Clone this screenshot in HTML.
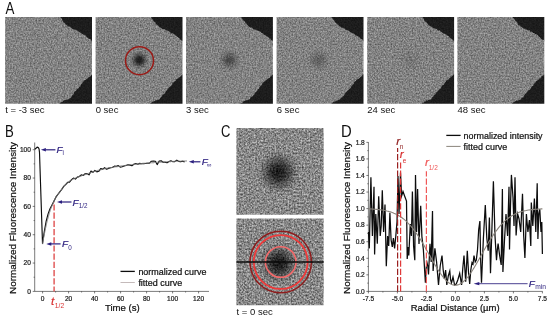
<!DOCTYPE html>
<html lang="en"><head><meta charset="utf-8"><title>FRAP analysis figure</title>
<style>html,body{margin:0;padding:0;background:#fff;}body{width:550px;height:317px;overflow:hidden;}svg{display:block;}text{font-family:"Liberation Sans", sans-serif;}</style></head><body>
<svg width="550" height="317" viewBox="0 0 550 317">
<defs>
<filter id="nA0" x="0" y="0" width="1" height="1" color-interpolation-filters="sRGB"><feTurbulence type="fractalNoise" baseFrequency="0.71 0.63" numOctaves="2" seed="3" result="t"/><feColorMatrix in="t" type="matrix" values="0.48 0 0 0 0.26  0.48 0 0 0 0.26  0.48 0 0 0 0.26  0 0 0 0 1" result="n"/><feComposite in="SourceGraphic" in2="n" operator="arithmetic" k1="2" k2="0" k3="0" k4="0"/></filter>
<filter id="nA1" x="0" y="0" width="1" height="1" color-interpolation-filters="sRGB"><feTurbulence type="fractalNoise" baseFrequency="0.71 0.63" numOctaves="2" seed="8" result="t"/><feColorMatrix in="t" type="matrix" values="0.48 0 0 0 0.26  0.48 0 0 0 0.26  0.48 0 0 0 0.26  0 0 0 0 1" result="n"/><feComposite in="SourceGraphic" in2="n" operator="arithmetic" k1="2" k2="0" k3="0" k4="0"/></filter>
<filter id="nA2" x="0" y="0" width="1" height="1" color-interpolation-filters="sRGB"><feTurbulence type="fractalNoise" baseFrequency="0.71 0.63" numOctaves="2" seed="13" result="t"/><feColorMatrix in="t" type="matrix" values="0.48 0 0 0 0.26  0.48 0 0 0 0.26  0.48 0 0 0 0.26  0 0 0 0 1" result="n"/><feComposite in="SourceGraphic" in2="n" operator="arithmetic" k1="2" k2="0" k3="0" k4="0"/></filter>
<filter id="nA3" x="0" y="0" width="1" height="1" color-interpolation-filters="sRGB"><feTurbulence type="fractalNoise" baseFrequency="0.71 0.63" numOctaves="2" seed="18" result="t"/><feColorMatrix in="t" type="matrix" values="0.48 0 0 0 0.26  0.48 0 0 0 0.26  0.48 0 0 0 0.26  0 0 0 0 1" result="n"/><feComposite in="SourceGraphic" in2="n" operator="arithmetic" k1="2" k2="0" k3="0" k4="0"/></filter>
<filter id="nA4" x="0" y="0" width="1" height="1" color-interpolation-filters="sRGB"><feTurbulence type="fractalNoise" baseFrequency="0.71 0.63" numOctaves="2" seed="23" result="t"/><feColorMatrix in="t" type="matrix" values="0.48 0 0 0 0.26  0.48 0 0 0 0.26  0.48 0 0 0 0.26  0 0 0 0 1" result="n"/><feComposite in="SourceGraphic" in2="n" operator="arithmetic" k1="2" k2="0" k3="0" k4="0"/></filter>
<filter id="nA5" x="0" y="0" width="1" height="1" color-interpolation-filters="sRGB"><feTurbulence type="fractalNoise" baseFrequency="0.71 0.63" numOctaves="2" seed="28" result="t"/><feColorMatrix in="t" type="matrix" values="0.48 0 0 0 0.26  0.48 0 0 0 0.26  0.48 0 0 0 0.26  0 0 0 0 1" result="n"/><feComposite in="SourceGraphic" in2="n" operator="arithmetic" k1="2" k2="0" k3="0" k4="0"/></filter>
<filter id="nC0" x="0" y="0" width="1" height="1" color-interpolation-filters="sRGB"><feTurbulence type="fractalNoise" baseFrequency="0.62 0.56" numOctaves="2" seed="11" result="t"/><feColorMatrix in="t" type="matrix" values="0.55 0 0 0 0.225  0.55 0 0 0 0.225  0.55 0 0 0 0.225  0 0 0 0 1" result="n"/><feComposite in="SourceGraphic" in2="n" operator="arithmetic" k1="2" k2="0" k3="0.34" k4="-0.17"/></filter>
<filter id="nC1" x="0" y="0" width="1" height="1" color-interpolation-filters="sRGB"><feTurbulence type="fractalNoise" baseFrequency="0.62 0.56" numOctaves="2" seed="23" result="t"/><feColorMatrix in="t" type="matrix" values="0.55 0 0 0 0.225  0.55 0 0 0 0.225  0.55 0 0 0 0.225  0 0 0 0 1" result="n"/><feComposite in="SourceGraphic" in2="n" operator="arithmetic" k1="2" k2="0" k3="0.34" k4="-0.17"/></filter>
<radialGradient id="s1"><stop offset="0" stop-color="#000" stop-opacity="0.8"/><stop offset="0.3" stop-color="#000" stop-opacity="0.68"/><stop offset="0.65" stop-color="#000" stop-opacity="0.24"/><stop offset="1" stop-color="#000" stop-opacity="0"/></radialGradient>
<radialGradient id="s2"><stop offset="0" stop-color="#000" stop-opacity="0.5"/><stop offset="0.3" stop-color="#000" stop-opacity="0.35"/><stop offset="0.65" stop-color="#000" stop-opacity="0.14"/><stop offset="1" stop-color="#000" stop-opacity="0"/></radialGradient>
<radialGradient id="s3"><stop offset="0" stop-color="#000" stop-opacity="0.28"/><stop offset="0.3" stop-color="#000" stop-opacity="0.21"/><stop offset="0.65" stop-color="#000" stop-opacity="0.084"/><stop offset="1" stop-color="#000" stop-opacity="0"/></radialGradient>
<radialGradient id="s4"><stop offset="0" stop-color="#000" stop-opacity="0.1"/><stop offset="0.3" stop-color="#000" stop-opacity="0.085"/><stop offset="0.65" stop-color="#000" stop-opacity="0.03"/><stop offset="1" stop-color="#000" stop-opacity="0"/></radialGradient>
<radialGradient id="sC"><stop offset="0" stop-color="#000" stop-opacity="0.82"/><stop offset="0.28" stop-color="#000" stop-opacity="0.7"/><stop offset="0.52" stop-color="#000" stop-opacity="0.42"/><stop offset="0.78" stop-color="#000" stop-opacity="0.14"/><stop offset="1" stop-color="#000" stop-opacity="0"/></radialGradient>
</defs>
<rect width="550" height="317" fill="#fff"/>
<text x="5.4" y="13.6" font-size="15.7" fill="#111" stroke="none" textLength="8.9" lengthAdjust="spacingAndGlyphs">A</text>
<clipPath id="cA"><rect x="0" y="0" width="86.9" height="86.7"/></clipPath>
<g transform="translate(5.1,17.1)">
<g clip-path="url(#cA)"><g filter="url(#nA0)">
<rect x="-3" y="-3" width="92.9" height="92.7" fill="#828282"/>
<polygon points="53.2,-3.0 55.2,0.0 55.7,0.7 56.7,1.6 57.3,2.9 57.8,4.1 58.6,5.1 59.5,5.8 60.7,7.4 61.3,7.7 62.6,9.2 63.6,9.4 65.0,9.7 65.9,10.6 66.5,11.0 67.9,12.2 69.0,12.5 70.3,12.6 71.1,12.7 71.5,13.1 73.1,14.0 73.8,14.9 75.0,15.3 76.3,16.2 76.8,16.6 78.1,17.4 79.3,17.6 80.6,18.2 81.1,19.4 82.0,20.1 82.9,21.1 84.6,21.9 85.6,22.4 86.3,23.4 87.0,24.1 89.9,26.1 89.9,-3.0" fill="#1d1d1d"/>
<polygon points="89.9,55.3 87.0,57.3 86.2,58.0 85.6,59.2 84.4,59.7 83.1,60.5 82.8,61.4 82.1,61.5 80.8,62.6 79.6,63.1 78.9,63.5 78.1,64.9 77.4,65.3 76.9,66.7 75.9,67.2 75.6,68.5 75.2,69.3 74.0,69.8 73.4,71.1 73.2,71.3 71.7,72.2 71.0,73.3 70.5,74.0 69.2,75.1 68.7,76.3 68.4,77.4 67.2,78.2 66.6,78.7 66.0,80.3 65.3,81.1 64.2,81.5 63.2,82.5 62.0,82.3 60.9,82.8 59.9,83.0 58.7,83.5 57.8,84.1 56.9,84.9 56.5,84.9 55.3,85.7 54.7,86.4 52.7,89.7 89.9,89.7" fill="#1d1d1d"/>
</g></g>
</g>
<text x="5.2" y="112.8" font-size="9.5" fill="#111" stroke="none">t = -3 sec</text>
<g transform="translate(95.6,17.1)">
<g clip-path="url(#cA)"><g filter="url(#nA1)">
<rect x="-3" y="-3" width="92.9" height="92.7" fill="#828282"/>
<circle cx="43.7" cy="42.9" r="10" fill="url(#s1)"/>
<polygon points="53.2,-3.0 55.2,0.0 55.8,0.7 56.9,2.4 57.3,3.0 57.8,3.7 58.9,4.9 60.2,5.9 60.3,7.5 61.7,7.6 62.5,8.4 63.6,9.9 64.9,10.3 65.4,10.7 66.5,11.6 68.1,12.1 69.1,12.2 70.4,13.2 71.4,13.3 72.2,13.6 72.7,14.1 73.8,14.4 74.6,15.3 75.8,16.2 77.5,16.5 78.5,17.5 79.5,17.7 79.9,18.3 80.9,18.9 82.4,20.4 83.6,20.9 84.5,22.1 84.9,22.7 86.5,23.6 87.0,24.1 89.9,26.1 89.9,-3.0" fill="#1d1d1d"/>
<polygon points="89.9,55.3 87.0,57.3 86.3,58.0 85.0,59.1 84.2,59.9 84.0,60.2 82.6,61.4 82.0,61.4 80.6,62.1 80.4,63.4 78.9,64.1 78.9,64.8 77.6,65.6 76.7,66.0 76.7,67.4 75.6,68.5 74.8,69.3 74.5,69.6 73.3,70.5 72.6,71.7 71.8,72.4 70.9,73.7 70.3,74.2 69.7,75.6 68.7,76.6 68.0,77.2 67.2,77.7 66.3,78.8 65.2,80.3 64.6,80.8 64.5,81.7 63.4,82.4 62.4,83.0 60.8,83.1 59.8,83.2 59.3,83.8 58.3,84.4 57.7,84.5 56.5,85.2 55.6,86.0 54.7,86.4 52.7,89.7 89.9,89.7" fill="#1d1d1d"/>
</g></g>
<circle cx="43.9" cy="43.6" r="14.0" fill="none" stroke="#9a1a16" stroke-width="1.45"/>
</g>
<text x="95.7" y="112.8" font-size="9.5" fill="#111" stroke="none">0 sec</text>
<g transform="translate(186,17.1)">
<g clip-path="url(#cA)"><g filter="url(#nA2)">
<rect x="-3" y="-3" width="92.9" height="92.7" fill="#828282"/>
<circle cx="43.4" cy="42.9" r="11.5" fill="url(#s2)"/>
<polygon points="53.2,-3.0 55.2,0.0 55.9,1.0 56.6,2.4 57.5,3.3 58.6,3.9 59.1,5.5 60.2,5.9 60.4,7.0 61.2,7.7 62.1,9.0 63.8,9.8 64.3,10.3 65.7,10.5 67.2,11.8 67.8,12.3 69.2,12.4 70.6,13.0 70.7,13.0 71.9,13.3 72.7,13.9 74.2,14.4 75.0,15.4 75.6,15.9 77.2,16.6 77.7,17.5 79.4,18.2 79.8,18.3 80.8,19.5 82.1,19.7 83.3,21.3 84.7,21.6 84.9,22.9 86.2,23.5 87.0,24.1 89.9,26.1 89.9,-3.0" fill="#1d1d1d"/>
<polygon points="89.9,55.3 87.0,57.3 85.7,57.7 85.4,58.8 84.0,60.0 83.7,60.6 82.3,61.3 81.4,62.0 80.9,62.3 80.1,63.5 79.0,63.5 78.5,64.4 77.4,65.2 76.6,66.1 76.1,67.1 75.8,67.9 74.9,68.7 74.1,69.4 73.3,70.3 73.0,71.6 71.7,72.4 71.6,73.0 70.7,74.1 69.6,75.5 68.7,76.2 68.2,77.6 67.1,78.4 66.6,79.2 65.5,79.9 64.5,80.5 63.9,81.8 63.4,82.1 62.0,83.0 61.5,83.2 59.8,83.2 58.9,83.8 57.9,84.2 57.1,85.0 56.9,85.2 55.3,86.2 54.7,86.4 52.7,89.7 89.9,89.7" fill="#1d1d1d"/>
</g></g>
</g>
<text x="186.1" y="112.8" font-size="9.5" fill="#111" stroke="none">3 sec</text>
<g transform="translate(276.6,17.1)">
<g clip-path="url(#cA)"><g filter="url(#nA3)">
<rect x="-3" y="-3" width="92.9" height="92.7" fill="#828282"/>
<circle cx="42.2" cy="42.9" r="12.5" fill="url(#s3)"/>
<polygon points="53.2,-3.0 55.2,0.0 55.7,0.9 56.2,1.9 57.3,3.0 57.9,4.1 58.6,4.9 59.5,6.1 60.4,6.6 61.5,7.7 62.6,8.8 63.8,9.6 64.8,10.5 65.5,10.6 67.3,11.0 68.3,12.0 68.9,12.7 70.5,12.8 71.2,13.3 71.6,13.4 72.9,14.4 74.2,15.1 75.1,15.9 76.2,16.2 76.8,16.1 77.8,17.0 78.8,18.1 80.2,18.6 81.3,19.4 82.3,19.6 83.6,21.2 84.4,21.8 85.4,22.2 86.3,23.1 87.0,24.1 89.9,26.1 89.9,-3.0" fill="#1d1d1d"/>
<polygon points="89.9,55.3 87.0,57.3 85.7,57.9 85.5,58.6 84.6,60.0 83.5,60.2 82.6,61.2 82.0,61.8 81.1,62.0 79.7,62.9 79.4,63.6 78.5,64.2 77.3,65.3 77.2,66.6 76.5,67.1 75.6,68.1 74.9,68.7 74.6,69.6 73.9,71.1 72.4,71.6 72.3,72.9 71.2,73.1 70.1,74.6 69.3,75.3 68.5,76.2 68.4,76.9 67.5,78.1 66.7,79.2 65.4,80.4 64.9,80.4 63.8,81.6 63.6,82.2 62.1,82.6 61.0,83.4 59.6,83.6 59.4,83.5 58.6,84.4 57.7,84.4 56.3,85.1 56.0,85.9 54.7,86.4 52.7,89.7 89.9,89.7" fill="#1d1d1d"/>
</g></g>
</g>
<text x="276.7" y="112.8" font-size="9.5" fill="#111" stroke="none">6 sec</text>
<g transform="translate(367.2,17.1)">
<g clip-path="url(#cA)"><g filter="url(#nA4)">
<rect x="-3" y="-3" width="92.9" height="92.7" fill="#828282"/>
<circle cx="43" cy="42.9" r="14" fill="url(#s4)"/>
<polygon points="53.2,-3.0 55.2,0.0 55.8,0.9 56.4,1.6 56.9,3.3 58.0,4.5 58.8,4.9 59.9,5.9 60.7,7.5 62.0,8.2 62.6,9.2 63.9,9.5 64.8,9.7 65.8,10.8 67.1,11.5 67.9,11.5 69.7,12.1 70.1,12.6 70.9,13.3 72.3,13.2 73.1,13.9 74.0,14.7 74.7,15.2 75.8,16.4 77.1,16.3 78.5,17.5 79.1,17.5 79.9,18.1 81.1,18.8 82.0,19.8 83.4,21.3 84.6,21.7 85.2,22.6 86.0,23.2 87.0,24.1 89.9,26.1 89.9,-3.0" fill="#1d1d1d"/>
<polygon points="89.9,55.3 87.0,57.3 85.7,57.9 85.7,58.5 84.4,59.7 83.9,60.0 82.5,60.8 81.7,61.7 81.3,62.7 80.4,62.7 78.8,64.0 78.8,64.6 77.8,65.1 76.9,66.8 76.6,67.6 76.0,67.9 74.5,68.7 74.2,70.0 73.9,70.9 72.9,71.8 72.0,72.5 70.8,73.6 70.2,74.6 69.7,75.0 68.5,76.0 68.1,77.4 66.9,77.7 66.4,79.1 65.5,79.8 65.0,80.4 64.1,81.6 64.0,82.5 62.7,82.7 61.0,82.8 60.4,83.6 58.9,83.4 58.2,84.4 57.2,84.4 56.6,85.6 55.3,85.4 54.7,86.4 52.7,89.7 89.9,89.7" fill="#1d1d1d"/>
</g></g>
</g>
<text x="367.3" y="112.8" font-size="9.5" fill="#111" stroke="none">24 sec</text>
<g transform="translate(457.4,17.1)">
<g clip-path="url(#cA)"><g filter="url(#nA5)">
<rect x="-3" y="-3" width="92.9" height="92.7" fill="#828282"/>
<polygon points="53.2,-3.0 55.2,0.0 55.8,0.9 56.8,1.7 57.6,3.2 58.2,3.8 59.5,5.0 60.2,6.0 60.5,7.3 61.4,8.3 62.5,8.5 63.3,9.4 64.7,10.5 65.3,10.7 66.6,11.8 67.7,11.5 68.9,12.3 70.5,13.1 71.2,13.5 72.3,13.2 72.7,14.5 74.2,14.4 75.1,15.4 75.9,15.9 76.8,16.1 77.9,17.0 79.5,17.5 80.6,18.2 81.1,19.5 82.6,20.0 82.9,20.9 84.3,22.2 85.0,22.4 86.5,22.9 87.0,24.1 89.9,26.1 89.9,-3.0" fill="#1d1d1d"/>
<polygon points="89.9,55.3 87.0,57.3 86.0,58.3 85.5,58.4 84.0,59.2 83.9,60.1 82.9,61.4 81.7,61.5 81.3,62.5 79.9,63.3 79.0,63.6 78.0,64.9 78.1,65.7 77.4,66.0 76.1,67.2 76.0,68.5 74.8,68.8 74.1,69.9 73.9,70.4 73.1,71.8 72.3,72.7 71.3,73.2 70.2,74.1 69.9,74.8 68.5,76.4 67.8,76.8 66.8,78.2 66.2,79.5 65.9,80.4 64.7,80.4 63.9,81.6 63.8,82.4 62.2,82.7 61.3,83.2 60.2,83.7 59.2,83.5 58.5,84.0 57.4,84.5 56.6,84.9 55.3,85.6 54.7,86.4 52.7,89.7 89.9,89.7" fill="#1d1d1d"/>
</g></g>
</g>
<text x="457.5" y="112.8" font-size="9.5" fill="#111" stroke="none">48 sec</text>
<text x="221.0" y="136.9" font-size="16.3" fill="#111" stroke="none" textLength="9.4" lengthAdjust="spacingAndGlyphs">C</text>
<clipPath id="cC"><rect x="0" y="0" width="87.25" height="86.9"/></clipPath>
<g transform="translate(236.4,127.9)" clip-path="url(#cC)"><g filter="url(#nC0)"><rect x="-3" y="-3" width="93.25" height="93" fill="#888888"/><circle cx="42.1" cy="44.4" r="22" fill="url(#sC)"/></g></g>
<g transform="translate(236.4,218.45)" clip-path="url(#cC)"><g filter="url(#nC1)"><rect x="-3" y="-3" width="93.25" height="93" fill="#888888"/><circle cx="42.3" cy="44.8" r="22" fill="url(#sC)"/></g></g>
<circle cx="280.7" cy="262" r="30.7" fill="none" stroke="#8e1c1c" stroke-width="1.5"/>
<circle cx="280.7" cy="262" r="26.9" fill="none" stroke="#ee3a3a" stroke-width="1.8"/>
<circle cx="280.7" cy="262" r="15.3" fill="none" stroke="#f46a6a" stroke-width="1.6"/>
<line x1="236.4" y1="262" x2="323.65" y2="262" stroke="#0a0a0a" stroke-width="1.6"/>
<text x="236.6" y="314.5" font-size="9.5" fill="#111" stroke="none">t = 0 sec</text>
<text x="5.0" y="136.9" font-size="16.1" fill="#111" stroke="none" textLength="8.8" lengthAdjust="spacingAndGlyphs">B</text>
<g stroke="#222" stroke-width="0.6" fill="none">
<path d="M34.7 142.5V291.4 H209"/>
<path d="M34.7 291.4 h-2"/>
<path d="M34.7 263.06 h-2"/>
<path d="M34.7 234.72 h-2"/>
<path d="M34.7 206.38 h-2"/>
<path d="M34.7 178.04 h-2"/>
<path d="M34.7 149.7 h-2"/>
<path d="M34.7 277.23 h-1.1"/>
<path d="M34.7 248.89 h-1.1"/>
<path d="M34.7 220.55 h-1.1"/>
<path d="M34.7 192.21 h-1.1"/>
<path d="M34.7 163.87 h-1.1"/>
<path d="M42.6 291.4 v2"/>
<path d="M68.6 291.4 v2"/>
<path d="M94.6 291.4 v2"/>
<path d="M120.6 291.4 v2"/>
<path d="M146.6 291.4 v2"/>
<path d="M172.6 291.4 v2"/>
<path d="M198.6 291.4 v2"/>
<path d="M55.6 291.4 v1.1"/>
<path d="M81.6 291.4 v1.1"/>
<path d="M107.6 291.4 v1.1"/>
<path d="M133.6 291.4 v1.1"/>
<path d="M159.6 291.4 v1.1"/>
<path d="M185.6 291.4 v1.1"/>
</g>
<g font-size="6.6" fill="#222" text-anchor="end" stroke="#222" stroke-width="0.22">
<text x="30.9" y="293.7">0</text>
<text x="30.9" y="265.36">20</text>
<text x="30.9" y="237.02">40</text>
<text x="30.9" y="208.68">60</text>
<text x="30.9" y="180.34">80</text>
<text x="30.9" y="152">100</text>
</g>
<g font-size="6.6" fill="#222" text-anchor="middle" stroke="#222" stroke-width="0.22">
<text x="42.6" y="300.5">0</text>
<text x="68.6" y="300.5">20</text>
<text x="94.6" y="300.5">40</text>
<text x="120.6" y="300.5">60</text>
<text x="146.6" y="300.5">80</text>
<text x="172.6" y="300.5">100</text>
<text x="198.6" y="300.5">120</text>
</g>
<text transform="translate(16.0,218) rotate(-90)" font-size="9.6" textLength="152" lengthAdjust="spacingAndGlyphs" text-anchor="middle" fill="#111" stroke="#111" stroke-width="0.22">Normalized Fluorescence Intensity</text>
<text x="122.3" y="310.8" font-size="9.6" text-anchor="middle" fill="#111" stroke="#111" stroke-width="0.22">Time (s)</text>
<path d="M42.6 244.2 L43.2 240.1 L43.9 236.2 L44.6 232.7 L45.2 229.5 L45.9 226.5 L46.5 223.7 L47.1 221.0 L47.8 218.5 L48.5 216.0 L49.1 213.7 L49.8 211.6 L50.4 209.6 L51.1 207.9 L51.7 206.3 L52.4 204.8 L53.0 203.4 L53.7 202.0 L54.3 200.5 L55.0 199.0 L55.6 197.7 L56.2 196.6 L56.9 195.7 L57.6 194.9 L58.2 194.0 L58.9 193.1 L59.5 192.2 L60.2 191.3 L60.8 190.4 L61.5 189.5 L62.1 188.6 L62.8 187.8 L63.4 187.0 L64.0 186.2 L64.7 185.6 L65.3 184.9 L66.0 184.3 L66.7 183.7 L67.3 183.1 L68.0 182.5 L68.6 182.0 L69.2 181.5 L69.9 181.0 L70.5 180.6 L71.2 180.2 L71.8 179.8 L72.5 179.5 L73.2 179.1 L73.8 178.8 L74.5 178.5 L75.1 178.2 L75.8 178.0 L76.4 177.7 L77.1 177.4 L77.7 177.2 L78.3 176.9 L79.0 176.7 L79.7 176.4 L80.3 176.2 L81.0 176.0 L81.6 175.7 L82.2 175.5 L82.9 175.2 L83.6 175.0 L84.2 174.8 L84.8 174.6 L85.5 174.4 L86.2 174.2 L86.8 173.9 L87.5 173.7 L88.1 173.5 L88.8 173.3 L89.4 173.1 L90.1 172.9 L90.7 172.6 L91.3 172.4 L92.0 172.2 L92.7 172.0 L93.3 171.8 L94.0 171.5 L94.6 171.3 L95.2 171.1 L95.9 171.0 L96.6 170.8 L97.2 170.6 L97.8 170.4 L98.5 170.2 L99.2 170.1 L99.8 169.9 L100.5 169.7 L101.1 169.6 L101.8 169.4 L102.4 169.2 L103.1 169.1 L103.7 168.9 L104.3 168.8 L105.0 168.7 L105.7 168.5 L106.3 168.4 L107.0 168.3 L107.6 168.2 L108.2 168.0 L108.9 167.9 L109.6 167.8 L110.2 167.7 L110.8 167.6 L111.5 167.5 L112.2 167.4 L112.8 167.3 L113.5 167.2 L114.1 167.0 L114.8 166.9 L115.4 166.8 L116.1 166.8 L116.7 166.7 L117.3 166.6 L118.0 166.5 L118.7 166.4 L119.3 166.3 L120.0 166.2 L120.6 166.1 L121.2 166.0 L121.9 165.9 L122.6 165.8 L123.2 165.7 L123.8 165.7 L124.5 165.6 L125.2 165.5 L125.8 165.4 L126.5 165.3 L127.1 165.2 L127.8 165.1 L128.4 165.1 L129.1 165.0 L129.7 164.9 L130.3 164.8 L131.0 164.7 L131.7 164.6 L132.3 164.6 L133.0 164.5 L133.6 164.4 L134.2 164.3 L134.9 164.3 L135.6 164.2 L136.2 164.1 L136.8 164.0 L137.5 164.0 L138.2 163.9 L138.8 163.8 L139.5 163.8 L140.1 163.7 L140.8 163.6 L141.4 163.6 L142.1 163.5 L142.7 163.4 L143.3 163.4 L144.0 163.3 L144.7 163.3 L145.3 163.2 L146.0 163.2 L146.6 163.1 L147.2 163.0 L147.9 163.0 L148.6 162.9 L149.2 162.9 L149.8 162.8 L150.5 162.8 L151.2 162.7 L151.8 162.7 L152.5 162.6 L153.1 162.6 L153.8 162.6 L154.4 162.5 L155.1 162.5 L155.7 162.4 L156.3 162.4 L157.0 162.3 L157.7 162.3 L158.3 162.2 L159.0 162.2 L159.6 162.2 L160.2 162.1 L160.9 162.1 L161.6 162.1 L162.2 162.0 L162.8 162.0 L163.5 161.9 L164.2 161.9 L164.8 161.9 L165.5 161.8 L166.1 161.8 L166.8 161.8 L167.4 161.7 L168.1 161.7 L168.7 161.7 L169.3 161.6 L170.0 161.6 L170.7 161.6 L171.3 161.5 L171.9 161.5 L172.6 161.5 L173.2 161.5 L173.9 161.4 L174.6 161.4 L175.2 161.4 L175.8 161.3 L176.5 161.3 L177.2 161.3 L177.8 161.3 L178.4 161.2 L179.1 161.2 L179.8 161.2 L180.4 161.2 L181.1 161.1 L181.7 161.1 L182.3 161.1 L183.0 161.1 L183.7 161.0 L184.3 161.0 L184.9 161.0 L185.6 161.0 L186.2 161.0 L186.9 160.9" fill="none" stroke="#9a9a9a" stroke-width="1.1" stroke-linejoin="round"/>
<path d="M34.8 149.3 L36.0 148.3 L37.1 147.1 L38.3 147.6 L39.1 149.1 L39.5 152.5 L42.5 243.5 L44.2 232.2 L46.1 221.5 L48.1 213.9 L50.0 208.8 L52.0 205.0 L53.9 201.2 L55.9 197.2 L57.8 194.5 L59.8 191.9 L61.7 189.5 L63.7 186.4 L65.6 184.6 L67.6 182.3 L69.5 182.1 L71.5 179.6 L73.4 178.1 L75.4 179.1 L77.3 177.1 L79.3 176.5 L81.2 174.9 L83.2 175.5 L85.1 173.7 L87.1 173.6 L89.0 174.9 L91.0 171.1 L92.9 172.3 L94.9 170.4 L96.8 171.9 L98.8 171.3 L100.7 168.6 L102.7 169.1 L104.6 167.7 L106.6 169.2 L108.5 168.4 L110.5 167.7 L112.4 167.5 L114.4 166.1 L116.3 166.3 L118.3 165.6 L120.2 167.1 L122.2 166.8 L124.1 165.9 L126.1 165.5 L128.0 164.7 L130.0 165.1 L131.9 165.7 L133.9 164.3 L135.8 163.5 L137.8 164.2 L139.7 163.4 L141.7 163.7 L143.6 163.8 L145.6 163.5 L147.5 163.2 L149.5 163.1 L151.4 161.2 L153.4 161.0 L155.3 161.3 L157.3 164.6 L159.2 161.0 L161.2 160.8 L163.1 162.3 L165.1 162.2 L167.0 162.8 L169.0 161.5 L170.9 160.8 L172.9 161.7 L174.8 161.6 L176.8 160.1 L178.7 161.4 L180.7 161.8 L182.6 161.2 L184.6 161.9" fill="none" stroke="#0c0c0c" stroke-width="1.15" stroke-linejoin="round"/>
<path d="M42.6 244.2 L43.2 240.1 L43.9 236.2 L44.6 232.7 L45.2 229.5 L45.9 226.5 L46.5 223.7 L47.1 221.0 L47.8 218.5 L48.5 216.0 L49.1 213.7 L49.8 211.6 L50.4 209.6 L51.1 207.9 L51.7 206.3 L52.4 204.8 L53.0 203.4 L53.7 202.0 L54.3 200.5 L55.0 199.0 L55.6 197.7 L56.2 196.6 L56.9 195.7 L57.6 194.9 L58.2 194.0 L58.9 193.1 L59.5 192.2 L60.2 191.3 L60.8 190.4 L61.5 189.5 L62.1 188.6 L62.8 187.8 L63.4 187.0 L64.0 186.2 L64.7 185.6 L65.3 184.9 L66.0 184.3 L66.7 183.7 L67.3 183.1 L68.0 182.5 L68.6 182.0 L69.2 181.5 L69.9 181.0 L70.5 180.6 L71.2 180.2 L71.8 179.8 L72.5 179.5 L73.2 179.1 L73.8 178.8 L74.5 178.5 L75.1 178.2 L75.8 178.0 L76.4 177.7 L77.1 177.4 L77.7 177.2 L78.3 176.9 L79.0 176.7 L79.7 176.4 L80.3 176.2 L81.0 176.0 L81.6 175.7 L82.2 175.5 L82.9 175.2 L83.6 175.0 L84.2 174.8 L84.8 174.6 L85.5 174.4 L86.2 174.2 L86.8 173.9 L87.5 173.7 L88.1 173.5 L88.8 173.3 L89.4 173.1 L90.1 172.9 L90.7 172.6 L91.3 172.4 L92.0 172.2 L92.7 172.0 L93.3 171.8 L94.0 171.5 L94.6 171.3 L95.2 171.1 L95.9 171.0 L96.6 170.8 L97.2 170.6 L97.8 170.4 L98.5 170.2 L99.2 170.1 L99.8 169.9 L100.5 169.7 L101.1 169.6 L101.8 169.4 L102.4 169.2 L103.1 169.1 L103.7 168.9 L104.3 168.8 L105.0 168.7 L105.7 168.5 L106.3 168.4 L107.0 168.3 L107.6 168.2 L108.2 168.0 L108.9 167.9 L109.6 167.8 L110.2 167.7 L110.8 167.6 L111.5 167.5 L112.2 167.4 L112.8 167.3 L113.5 167.2 L114.1 167.0 L114.8 166.9 L115.4 166.8 L116.1 166.8 L116.7 166.7 L117.3 166.6 L118.0 166.5 L118.7 166.4 L119.3 166.3 L120.0 166.2 L120.6 166.1 L121.2 166.0 L121.9 165.9 L122.6 165.8 L123.2 165.7 L123.8 165.7 L124.5 165.6 L125.2 165.5 L125.8 165.4 L126.5 165.3 L127.1 165.2 L127.8 165.1 L128.4 165.1 L129.1 165.0 L129.7 164.9 L130.3 164.8 L131.0 164.7 L131.7 164.6 L132.3 164.6 L133.0 164.5 L133.6 164.4 L134.2 164.3 L134.9 164.3 L135.6 164.2 L136.2 164.1 L136.8 164.0 L137.5 164.0 L138.2 163.9 L138.8 163.8 L139.5 163.8 L140.1 163.7 L140.8 163.6 L141.4 163.6 L142.1 163.5 L142.7 163.4 L143.3 163.4 L144.0 163.3 L144.7 163.3 L145.3 163.2 L146.0 163.2 L146.6 163.1 L147.2 163.0 L147.9 163.0 L148.6 162.9 L149.2 162.9 L149.8 162.8 L150.5 162.8 L151.2 162.7 L151.8 162.7 L152.5 162.6 L153.1 162.6 L153.8 162.6 L154.4 162.5 L155.1 162.5 L155.7 162.4 L156.3 162.4 L157.0 162.3 L157.7 162.3 L158.3 162.2 L159.0 162.2 L159.6 162.2 L160.2 162.1 L160.9 162.1 L161.6 162.1 L162.2 162.0 L162.8 162.0 L163.5 161.9 L164.2 161.9 L164.8 161.9 L165.5 161.8 L166.1 161.8 L166.8 161.8 L167.4 161.7 L168.1 161.7 L168.7 161.7 L169.3 161.6 L170.0 161.6 L170.7 161.6 L171.3 161.5 L171.9 161.5 L172.6 161.5 L173.2 161.5 L173.9 161.4 L174.6 161.4 L175.2 161.4 L175.8 161.3 L176.5 161.3 L177.2 161.3 L177.8 161.3 L178.4 161.2 L179.1 161.2 L179.8 161.2 L180.4 161.2 L181.1 161.1 L181.7 161.1 L182.3 161.1 L183.0 161.1 L183.7 161.0 L184.3 161.0 L184.9 161.0 L185.6 161.0 L186.2 161.0 L186.9 160.9" fill="none" stroke="#b4b4b4" stroke-width="0.55" stroke-linejoin="round"/>
<path d="M54.1 291.4V202.2" stroke="#e05050" stroke-width="1.4" stroke-dasharray="6.2 2" stroke-dashoffset="1.2" fill="none"/>
<path d="M45.4 149.8 H55.4" stroke="#2b1f7e" stroke-width="1.2" fill="none"/><path d="M40.9 149.8 l5 -1.75 v3.5 z" fill="#2b1f7e"/>
<text x="56.4" y="153.1" font-size="9.9" fill="#2b1f7e" stroke="#2b1f7e" stroke-width="0.22"><tspan font-style="italic">F</tspan><tspan dx="0.1" dy="2" font-size="6.3" stroke="none">i</tspan></text>
<path d="M61.5 202 H71.5" stroke="#2b1f7e" stroke-width="1.2" fill="none"/><path d="M57 202 l5 -1.75 v3.5 z" fill="#2b1f7e"/>
<text x="72.6" y="205.5" font-size="9.9" fill="#2b1f7e" stroke="#2b1f7e" stroke-width="0.22"><tspan font-style="italic">F</tspan><tspan dx="0.1" dy="2.6" font-size="6.3" stroke="none">1/2</tspan></text>
<path d="M50.8 243.9 H60.6" stroke="#2b1f7e" stroke-width="1.2" fill="none"/><path d="M46.3 243.9 l5 -1.75 v3.5 z" fill="#2b1f7e"/>
<text x="62.1" y="247.4" font-size="9.9" fill="#2b1f7e" stroke="#2b1f7e" stroke-width="0.22"><tspan font-style="italic">F</tspan><tspan dx="0.1" dy="2.6" font-size="6.3" stroke="none">0</tspan></text>
<path d="M193.3 161.8 H200.4" stroke="#2b1f7e" stroke-width="1.2" fill="none"/><path d="M188.8 161.8 l5 -1.75 v3.5 z" fill="#2b1f7e"/>
<text x="201.8" y="165.3" font-size="9.9" fill="#2b1f7e" stroke="#2b1f7e" stroke-width="0.22"><tspan font-style="italic">F</tspan><tspan dx="-1" dy="1.7" font-size="6.3" stroke="none">∞</tspan></text>
<text x="51.1" y="304.5" font-size="11.6" fill="#d83030" stroke="#d83030" stroke-width="0.22"><tspan font-style="italic">t</tspan><tspan dx="0.5" dy="3.8" font-size="6.7" stroke="none">1/2</tspan></text>
<path d="M120.5 271.4H134.8" stroke="#0c0c0c" stroke-width="1.3"/>
<path d="M120.5 282.5H134.8" stroke="#c4baba" stroke-width="1.0"/>
<text x="138.4" y="274.5" font-size="8.95" fill="#111" stroke="#111" stroke-width="0.22">normalized curve</text>
<text x="138.4" y="285.6" font-size="8.95" fill="#111" stroke="#111" stroke-width="0.22">fitted curve</text>
<text x="341.0" y="136.9" font-size="16.1" fill="#111" stroke="none" textLength="10.7" lengthAdjust="spacingAndGlyphs">D</text>
<g stroke="#222" stroke-width="0.6" fill="none">
<path d="M368.4 142.2V291.4 H542.6"/>
<path d="M368.4 291.4 h-2"/>
<path d="M368.4 274.84 h-2"/>
<path d="M368.4 258.28 h-2"/>
<path d="M368.4 241.72 h-2"/>
<path d="M368.4 225.16 h-2"/>
<path d="M368.4 208.6 h-2"/>
<path d="M368.4 192.04 h-2"/>
<path d="M368.4 175.48 h-2"/>
<path d="M368.4 158.92 h-2"/>
<path d="M368.4 142.36 h-2"/>
<path d="M368.4 283.12 h-1.1"/>
<path d="M368.4 266.56 h-1.1"/>
<path d="M368.4 250 h-1.1"/>
<path d="M368.4 233.44 h-1.1"/>
<path d="M368.4 216.88 h-1.1"/>
<path d="M368.4 200.32 h-1.1"/>
<path d="M368.4 183.76 h-1.1"/>
<path d="M368.4 167.2 h-1.1"/>
<path d="M368.4 150.64 h-1.1"/>
<path d="M368.4 291.4 v2"/>
<path d="M397.4 291.4 v2"/>
<path d="M426.4 291.4 v2"/>
<path d="M455.4 291.4 v2"/>
<path d="M484.4 291.4 v2"/>
<path d="M513.4 291.4 v2"/>
<path d="M542.4 291.4 v2"/>
<path d="M382.9 291.4 v1.1"/>
<path d="M411.9 291.4 v1.1"/>
<path d="M440.9 291.4 v1.1"/>
<path d="M469.9 291.4 v1.1"/>
<path d="M498.9 291.4 v1.1"/>
<path d="M527.9 291.4 v1.1"/>
</g>
<g font-size="6.6" fill="#222" text-anchor="end" stroke="#222" stroke-width="0.22">
<text x="364.8" y="293.7">0.0</text>
<text x="364.8" y="277.14">0.2</text>
<text x="364.8" y="260.58">0.4</text>
<text x="364.8" y="244.02">0.6</text>
<text x="364.8" y="227.46">0.8</text>
<text x="364.8" y="210.9">1.0</text>
<text x="364.8" y="194.34">1.2</text>
<text x="364.8" y="177.78">1.4</text>
<text x="364.8" y="161.22">1.6</text>
<text x="364.8" y="144.66">1.8</text>
</g>
<g font-size="6.6" fill="#222" text-anchor="middle" stroke="#222" stroke-width="0.22">
<text x="368.4" y="300.5">-7.5</text>
<text x="397.4" y="300.5">-5.0</text>
<text x="426.4" y="300.5">-2.5</text>
<text x="455.4" y="300.5">0.0</text>
<text x="484.4" y="300.5">2.5</text>
<text x="513.4" y="300.5">5.0</text>
<text x="542.4" y="300.5">7.5</text>
</g>
<text transform="translate(350.2,218) rotate(-90)" font-size="9.6" textLength="152" lengthAdjust="spacingAndGlyphs" text-anchor="middle" fill="#111" stroke="#111" stroke-width="0.22">Normalized Fluorescence Intensity</text>
<text x="455.2" y="310.8" font-size="9.5" text-anchor="middle" fill="#111" stroke="#111" stroke-width="0.22">Radial Distance (µm)</text>
<path d="M368.5 232.0 L369.3 248.4 L370.9 177.3 L372.4 236.0 L374.0 186.7 L374.6 254.4 L375.8 214.0 L377.3 243.7 L378.7 196.2 L380.2 236.0 L381.2 226.0 L382.3 190.3 L383.6 232.0 L385.0 204.5 L386.3 266.2 L387.6 236.0 L388.7 246.0 L389.9 212.8 L391.1 240.0 L392.3 247.0 L393.4 238.0 L394.6 248.4 L395.8 236.0 L397.0 222.0 L398.0 176.0 L399.0 214.0 L400.5 172.5 L401.6 196.0 L403.0 191.5 L404.6 196.0 L406.5 201.0 L407.2 259.0 L408.2 247.0 L408.8 255.5 L410.3 224.0 L411.4 236.0 L412.4 191.5 L413.6 246.0 L414.8 260.3 L415.5 174.9 L416.6 232.0 L417.6 189.0 L419.0 244.0 L420.7 205.7 L421.9 236.6 L423.4 250.0 L425.4 282.8 L426.2 268.0 L427.0 262.6 L427.8 266.0 L428.5 274.5 L430.0 243.7 L431.2 262.0 L432.5 211.0 L433.1 271.0 L434.9 248.4 L436.6 262.0 L438.5 285.0 L440.2 266.0 L442.0 255.5 L443.2 270.0 L444.4 279.0 L445.6 270.0 L446.8 285.0 L448.3 276.0 L449.8 271.0 L450.6 280.0 L451.5 283.0 L453.0 277.0 L454.6 285.0 L456.2 284.0 L457.8 280.0 L459.7 273.3 L461.6 285.0 L462.8 268.0 L464.0 255.5 L465.7 281.6 L467.3 250.8 L468.5 272.0 L469.7 284.0 L470.8 270.0 L472.0 262.6 L473.0 264.0 L474.0 255.5 L475.2 262.0 L476.3 260.0 L477.5 250.0 L478.7 229.5 L479.9 221.0 L480.7 262.0 L481.5 282.8 L483.4 238.0 L485.3 205.0 L486.8 238.0 L488.2 250.8 L489.4 217.5 L490.5 273.3 L492.0 226.0 L493.4 181.3 L495.0 236.0 L496.5 260.3 L497.3 250.0 L498.1 243.7 L499.7 256.0 L501.2 265.0 L502.4 189.1 L502.9 272.0 L504.5 240.0 L506.0 214.0 L507.6 236.0 L509.0 186.7 L509.5 249.6 L510.5 206.0 L511.4 174.9 L513.0 197.4 L514.0 226.0 L515.0 177.3 L516.1 235.4 L517.6 214.0 L519.0 218.7 L520.7 232.0 L522.5 193.8 L523.7 236.0 L524.9 257.9 L526.4 214.0 L527.9 232.0 L529.4 220.0 L530.8 246.0 L531.3 202.6 L532.8 226.0 L534.4 198.6 L535.8 232.0 L537.2 183.2 L537.9 239.0 L538.8 214.0 L539.8 209.2 L541.0 232.0 L541.8 222.0 L542.4 254.0" fill="none" stroke="#0c0c0c" stroke-width="1.25" stroke-linejoin="miter" stroke-miterlimit="6"/>
<path d="M368.4 208.9 L369.6 208.9 L370.7 209.0 L371.9 209.0 L373.0 209.1 L374.2 209.2 L375.4 209.3 L376.5 209.4 L377.7 209.5 L378.8 209.6 L380.0 209.7 L381.2 209.9 L382.3 210.0 L383.5 210.2 L384.6 210.5 L385.8 210.7 L387.0 211.0 L388.1 211.2 L389.3 211.6 L390.4 211.9 L391.6 212.3 L392.8 212.7 L393.9 213.2 L395.1 213.7 L396.2 214.3 L397.4 214.9 L398.6 215.5 L399.7 216.2 L400.9 217.0 L402.0 217.8 L403.2 218.7 L404.4 219.7 L405.5 220.7 L406.7 221.7 L407.8 222.9 L409.0 224.1 L410.2 225.3 L411.3 226.7 L412.5 228.1 L413.6 229.6 L414.8 231.1 L416.0 232.7 L417.1 234.4 L418.3 236.1 L419.4 237.9 L420.6 239.7 L421.8 241.6 L422.9 243.6 L424.1 245.5 L425.2 247.6 L426.4 249.6 L427.6 251.7 L428.7 253.7 L429.9 255.8 L431.0 257.9 L432.2 259.9 L433.4 262.0 L434.5 264.0 L435.7 266.0 L436.8 267.9 L438.0 269.8 L439.2 271.6 L440.3 273.3 L441.5 274.9 L442.6 276.5 L443.8 277.9 L445.0 279.2 L446.1 280.4 L447.3 281.5 L448.4 282.5 L449.6 283.3 L450.8 284.0 L451.9 284.5 L453.1 284.9 L454.2 285.1 L455.4 285.2 L456.6 285.1 L457.7 284.9 L458.9 284.5 L460.0 284.0 L461.2 283.3 L462.4 282.5 L463.5 281.5 L464.7 280.4 L465.8 279.2 L467.0 277.9 L468.2 276.5 L469.3 274.9 L470.5 273.3 L471.6 271.6 L472.8 269.8 L474.0 267.9 L475.1 266.0 L476.3 264.0 L477.4 262.0 L478.6 259.9 L479.8 257.9 L480.9 255.8 L482.1 253.7 L483.2 251.7 L484.4 249.6 L485.6 247.6 L486.7 245.5 L487.9 243.6 L489.0 241.6 L490.2 239.7 L491.4 237.9 L492.5 236.1 L493.7 234.4 L494.8 232.7 L496.0 231.1 L497.2 229.6 L498.3 228.1 L499.5 226.7 L500.6 225.3 L501.8 224.1 L503.0 222.9 L504.1 221.7 L505.3 220.7 L506.4 219.7 L507.6 218.7 L508.8 217.8 L509.9 217.0 L511.1 216.2 L512.2 215.5 L513.4 214.9 L514.6 214.3 L515.7 213.7 L516.9 213.2 L518.0 212.7 L519.2 212.3 L520.4 211.9 L521.5 211.6 L522.7 211.2 L523.8 211.0 L525.0 210.7 L526.2 210.5 L527.3 210.2 L528.5 210.0 L529.6 209.9 L530.8 209.7 L532.0 209.6 L533.1 209.5 L534.3 209.4 L535.4 209.3 L536.6 209.2 L537.8 209.1 L538.9 209.0 L540.1 209.0 L541.2 208.9 L542.4 208.9" fill="none" stroke="#8a847c" stroke-width="1.1"/>
<path d="M397.6 291.4V148" stroke="#9a2020" stroke-width="1.2" stroke-dasharray="6.2 2" fill="none"/>
<path d="M400.6 291.4V162.5" stroke="#e03a3a" stroke-width="1.2" stroke-dasharray="6.2 2" fill="none"/>
<path d="M426.4 291.4V171.2" stroke="#f05858" stroke-width="1.2" stroke-dasharray="6.2 2" fill="none"/>
<text x="396.2" y="144.6" font-size="11.8" fill="#8e1c1c" stroke="#8e1c1c" stroke-width="0.22"><tspan font-style="italic">r</tspan><tspan dx="-0.3" dy="4.2" font-size="6.4" stroke="none">n</tspan></text>
<text x="399.8" y="158.3" font-size="11.8" fill="#d83030" stroke="#d83030" stroke-width="0.22"><tspan font-style="italic">r</tspan><tspan dx="-0.9" dy="4.2" font-size="6.4" stroke="none">e</tspan></text>
<text x="425" y="165.7" font-size="11.8" fill="#f05858" stroke="#f05858" stroke-width="0.22"><tspan font-style="italic">r</tspan><tspan dx="-0.2" dy="4.5" font-size="6.5" stroke="none">1/2</tspan></text>
<path d="M478.8 283.7 H527.6" stroke="#2b1f7e" stroke-width="0.85" fill="none"/><path d="M473.7 283.7 l5.6 -1.6 v3.2 z" fill="#2b1f7e"/>
<text x="528.7" y="287.1" font-size="9.9" fill="#2b1f7e" stroke="#2b1f7e" stroke-width="0.22"><tspan font-style="italic">F</tspan><tspan dx="0.5" dy="1.9" font-size="6.7" stroke="none">min</tspan></text>
<path d="M446.3 135.4H460.6" stroke="#0c0c0c" stroke-width="1.3"/>
<path d="M446.3 146.4H460.6" stroke="#8a847c" stroke-width="1.0"/>
<text x="463.6" y="138.6" font-size="8.95" fill="#111" stroke="#111" stroke-width="0.22">normalized intensity</text>
<text x="463.6" y="149.6" font-size="8.95" fill="#111" stroke="#111" stroke-width="0.22">fitted curve</text>
</svg></body></html>
